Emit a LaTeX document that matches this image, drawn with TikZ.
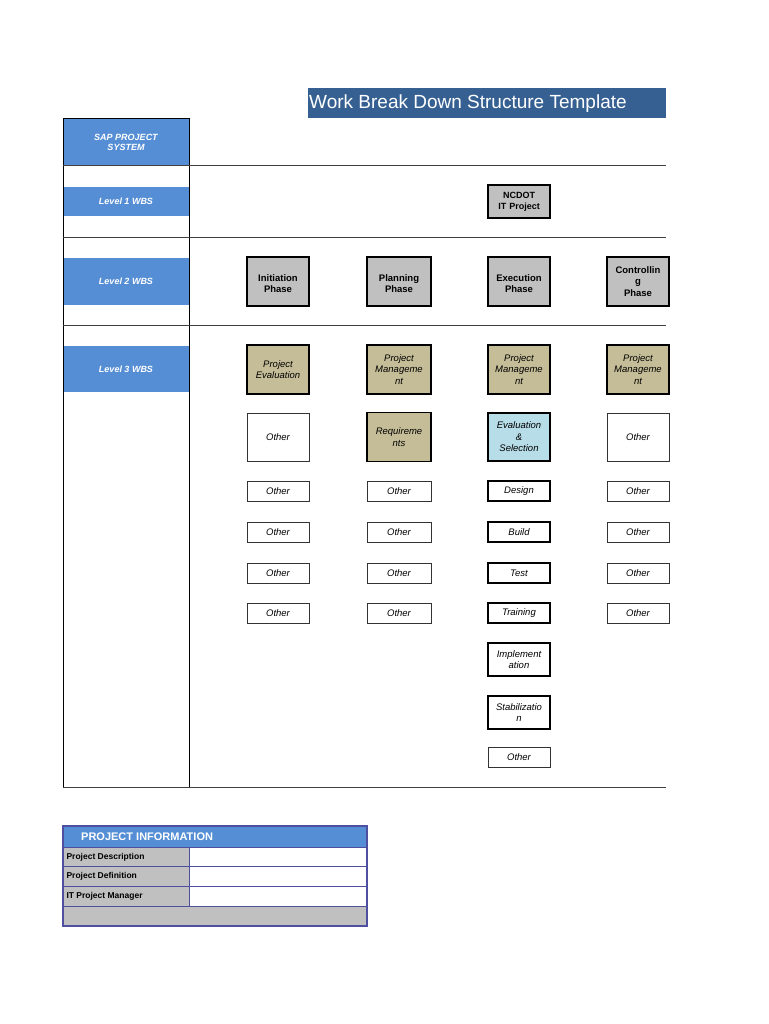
\documentclass[tikz,border=0pt]{standalone}
\usepackage{fontspec}
\setmainfont{Liberation Sans}
\begin{document}
\begin{tikzpicture}[x=1pt,y=-1pt,
  band/.style={fill=blueb,draw=none,text=white,font=\fontsize{9}{10}\selectfont\bfseries\itshape,align=center},
  bx/.style={draw=black,line width=#1,minimum width=60pt,inner sep=0pt,align=center,text width=62pt,font=\fontsize{9.5}{11.5}\selectfont\itshape},
  bx/.default=0.6pt,
  ph/.style={bx=1.6pt,fill=grayb,minimum height=49pt,font=\fontsize{9.5}{11.5}\selectfont\bfseries},
  pm/.style={bx=1.6pt,fill=tan,minimum height=49pt},
  sm/.style={bx,minimum height=20pt,draw=black!80},
  smb/.style={bx=1.6pt,minimum height=20pt},
  rowl/.style={anchor=west,font=\fontsize{8.5}{10}\selectfont\bfseries}]
\definecolor{blueb}{HTML}{558ED5}
\definecolor{titleb}{HTML}{366092}
\definecolor{grayb}{HTML}{C0C0C0}
\definecolor{tan}{HTML}{C4BD97}
\definecolor{ltblue}{HTML}{B7DDE8}
\definecolor{frame}{HTML}{4F4F9F}
\useasboundingbox (0,0) rectangle (768,1024);
% title
\begin{scope}
\clip (308,88) rectangle (666,118);
\fill[titleb] (308,88) rectangle (666,118);
\node[anchor=west,text=white,font=\fontsize{19}{22}\selectfont,inner sep=1pt] (title) at (308,104) {Work Break Down Structure Template};
\end{scope}
% left column and lines
\draw[line width=0.8pt] (63,118) -- (189,118) -- (189,787) (63,118) -- (63,787);
\node[band,minimum width=125pt,minimum height=46pt] (sap) at (126,142) {SAP PROJECT\\SYSTEM};
\node[band,minimum width=125pt,minimum height=29pt] (l1) at (126,201.5) {Level 1 WBS};
\node[band,minimum width=125pt,minimum height=47pt] (l2) at (126,281.5) {Level 2 WBS};
\node[band,minimum width=125pt,minimum height=46pt] (l3) at (126,369) {Level 3 WBS};
\foreach \y in {165,237,325,787} \draw[line width=0.8pt,black!75] (63,\y) -- (666,\y);
% level 1
\node[bx=1.6pt,fill=grayb,minimum height=33pt,font=\fontsize{9}{11}\selectfont\bfseries] (top) at (519,201.5) {NCDOT\\IT Project};
% level 2
\node[ph] (p1) at (278,281.5) {\\Initiation\\Phase};
\node[ph,minimum width=64pt] (p2) at (399,281.5) {\\Planning\\Phase};
\node[ph] (p3) at (519,281.5) {\\Execution\\Phase};
\node[ph] (p4) at (638,281.5) {Controllin\\g\\Phase};
% level 3
\node[pm] (a1) at (278,369.5) {Project\\Evaluation};
\node[pm,minimum width=64pt] (b1) at (399,369.5) {Project\\Manageme\\nt};
\node[pm] (c1) at (519,369.5) {Project\\Manageme\\nt};
\node[pm] (d1) at (638,369.5) {Project\\Manageme\\nt};
\node[bx,minimum height=48pt,draw=black!80] (a2) at (278,437) {Other};
\node[pm,minimum width=64pt] (b2) at (399,437) {Requireme\\nts};
\node[bx=1.6pt,fill=ltblue,minimum height=48pt] (c2) at (519,437) {Evaluation\\\&\\Selection};
\node[bx,minimum height=48pt,draw=black!80] (d2) at (638,437) {Other};
\foreach \y/\t [count=\i from 3] in {491/Design,532/Build,573/Test,613/Training}{
  \node[sm] (a\i) at (278,\y) {Other};
  \node[sm,minimum width=64pt] (b\i) at (399,\y) {Other};
  \node[smb] (c\i) at (519,\y) {\t};
  \node[sm] (d\i) at (638,\y) {Other};
}
\node[smb,minimum height=33pt] (c7) at (519,659.5) {Implement\\ation};
\node[smb,minimum height=33pt] (c8) at (519,712.5) {Stabilizatio\\n};
\node[sm] (c9) at (519,757) {Other};
% project information
\fill[blueb] (63,826) rectangle (367,847);
\fill[grayb] (63,847) rectangle (189,906);
\fill[grayb] (63,906) rectangle (367,926);
\draw[frame,line width=0.6pt] (63,847) -- (367,847) (63,866) -- (367,866) (63,886) -- (367,886) (63,906) -- (367,906) (189,847) -- (189,906);
\draw[frame,line width=1.2pt] (63,826) rectangle (367,926);
\node[anchor=west,text=white,font=\fontsize{11}{13}\selectfont\bfseries,inner sep=0pt] (pi) at (81,836.5) {PROJECT INFORMATION};
\node[rowl] (r1) at (63,857) {Project Description};
\node[rowl] (r2) at (63,876.5) {Project Definition};
\node[rowl] (r3) at (63,896.5) {IT Project Manager};
\end{tikzpicture}
\end{document}
